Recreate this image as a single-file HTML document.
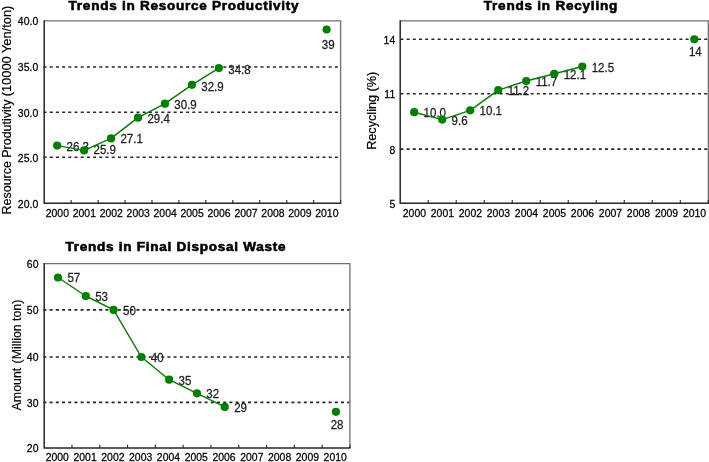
<!DOCTYPE html><html><head><meta charset="utf-8"><title>Trends</title><style>html,body{margin:0;padding:0;background:#fff}svg{display:block;filter:blur(0.4px)}text{font-family:"Liberation Sans",Arial,sans-serif}</style></head><body>
<svg width="709" height="462" viewBox="0 0 709 462">
<rect width="709" height="462" fill="#fff"/>
<path d="M44.2 20.8H340.6V203.3" fill="none" stroke="#707070" stroke-width="1.3"/>
<line x1="43.5" x2="340.1" y1="157.30" y2="157.30" stroke="#262626" stroke-width="1.6" stroke-dasharray="3 3.2"/>
<line x1="43.5" x2="340.1" y1="112.25" y2="112.25" stroke="#262626" stroke-width="1.6" stroke-dasharray="3 3.2"/>
<line x1="43.5" x2="340.1" y1="67.00" y2="67.00" stroke="#262626" stroke-width="1.6" stroke-dasharray="3 3.2"/>
<path d="M44.2 20.3V203.3H341.20000000000005" fill="none" stroke="#262626" stroke-width="1.5"/>
<line x1="71.15" x2="71.15" y1="200.10000000000002" y2="203.3" stroke="#262626" stroke-width="1.1"/>
<line x1="98.09" x2="98.09" y1="200.10000000000002" y2="203.3" stroke="#262626" stroke-width="1.1"/>
<line x1="125.04" x2="125.04" y1="200.10000000000002" y2="203.3" stroke="#262626" stroke-width="1.1"/>
<line x1="151.98" x2="151.98" y1="200.10000000000002" y2="203.3" stroke="#262626" stroke-width="1.1"/>
<line x1="178.93" x2="178.93" y1="200.10000000000002" y2="203.3" stroke="#262626" stroke-width="1.1"/>
<line x1="205.87" x2="205.87" y1="200.10000000000002" y2="203.3" stroke="#262626" stroke-width="1.1"/>
<line x1="232.82" x2="232.82" y1="200.10000000000002" y2="203.3" stroke="#262626" stroke-width="1.1"/>
<line x1="259.76" x2="259.76" y1="200.10000000000002" y2="203.3" stroke="#262626" stroke-width="1.1"/>
<line x1="286.71" x2="286.71" y1="200.10000000000002" y2="203.3" stroke="#262626" stroke-width="1.1"/>
<line x1="313.65" x2="313.65" y1="200.10000000000002" y2="203.3" stroke="#262626" stroke-width="1.1"/>
<line x1="340.60" x2="340.60" y1="200.10000000000002" y2="203.3" stroke="#262626" stroke-width="1.1"/>
<text transform="translate(38.20 207.70) scale(0.95 1)" font-size="11" text-anchor="end" fill="#000" stroke="#000" stroke-width="0.25">20.0</text>
<text transform="translate(38.20 161.70) scale(0.95 1)" font-size="11" text-anchor="end" fill="#000" stroke="#000" stroke-width="0.25">25.0</text>
<text transform="translate(38.20 116.65) scale(0.95 1)" font-size="11" text-anchor="end" fill="#000" stroke="#000" stroke-width="0.25">30.0</text>
<text transform="translate(38.20 71.40) scale(0.95 1)" font-size="11" text-anchor="end" fill="#000" stroke="#000" stroke-width="0.25">35.0</text>
<text transform="translate(38.20 25.20) scale(0.95 1)" font-size="11" text-anchor="end" fill="#000" stroke="#000" stroke-width="0.25">40.0</text>
<text transform="translate(57.37 217.30) scale(0.95 1)" font-size="11" text-anchor="middle" fill="#000" stroke="#000" stroke-width="0.25">2000</text>
<text transform="translate(84.32 217.30) scale(0.95 1)" font-size="11" text-anchor="middle" fill="#000" stroke="#000" stroke-width="0.25">2001</text>
<text transform="translate(111.26 217.30) scale(0.95 1)" font-size="11" text-anchor="middle" fill="#000" stroke="#000" stroke-width="0.25">2002</text>
<text transform="translate(138.21 217.30) scale(0.95 1)" font-size="11" text-anchor="middle" fill="#000" stroke="#000" stroke-width="0.25">2003</text>
<text transform="translate(165.15 217.30) scale(0.95 1)" font-size="11" text-anchor="middle" fill="#000" stroke="#000" stroke-width="0.25">2004</text>
<text transform="translate(192.10 217.30) scale(0.95 1)" font-size="11" text-anchor="middle" fill="#000" stroke="#000" stroke-width="0.25">2005</text>
<text transform="translate(219.05 217.30) scale(0.95 1)" font-size="11" text-anchor="middle" fill="#000" stroke="#000" stroke-width="0.25">2006</text>
<text transform="translate(245.99 217.30) scale(0.95 1)" font-size="11" text-anchor="middle" fill="#000" stroke="#000" stroke-width="0.25">2007</text>
<text transform="translate(272.94 217.30) scale(0.95 1)" font-size="11" text-anchor="middle" fill="#000" stroke="#000" stroke-width="0.25">2008</text>
<text transform="translate(299.88 217.30) scale(0.95 1)" font-size="11" text-anchor="middle" fill="#000" stroke="#000" stroke-width="0.25">2009</text>
<text transform="translate(326.83 217.30) scale(0.95 1)" font-size="11" text-anchor="middle" fill="#000" stroke="#000" stroke-width="0.25">2010</text>
<text transform="translate(66.57 150.59) scale(0.96 1)" font-size="12" text-anchor="start" fill="#1c1c1c" stroke="#1c1c1c" stroke-width="0.25">26.3</text>
<text transform="translate(93.52 154.19) scale(0.96 1)" font-size="12" text-anchor="start" fill="#1c1c1c" stroke="#1c1c1c" stroke-width="0.25">25.9</text>
<text transform="translate(120.46 143.38) scale(0.96 1)" font-size="12" text-anchor="start" fill="#1c1c1c" stroke="#1c1c1c" stroke-width="0.25">27.1</text>
<text transform="translate(147.41 122.66) scale(0.96 1)" font-size="12" text-anchor="start" fill="#1c1c1c" stroke="#1c1c1c" stroke-width="0.25">29.4</text>
<text transform="translate(174.35 109.11) scale(0.96 1)" font-size="12" text-anchor="start" fill="#1c1c1c" stroke="#1c1c1c" stroke-width="0.25">30.9</text>
<text transform="translate(201.30 91.01) scale(0.96 1)" font-size="12" text-anchor="start" fill="#1c1c1c" stroke="#1c1c1c" stroke-width="0.25">32.9</text>
<text transform="translate(228.25 73.81) scale(0.96 1)" font-size="12" text-anchor="start" fill="#1c1c1c" stroke="#1c1c1c" stroke-width="0.25">34.8</text>
<text transform="translate(328.13 48.99) scale(0.96 1)" font-size="12" text-anchor="middle" fill="#1c1c1c" stroke="#1c1c1c" stroke-width="0.25">39</text>
<polyline points="57.17,145.59 84.12,150.39 111.06,138.38 138.01,117.66 164.95,103.71 191.90,84.81 218.85,68.11" fill="none" stroke="#008000" stroke-width="1.45" stroke-linejoin="round"/>
<circle cx="57.17" cy="145.59" r="4.1" fill="#008000"/>
<circle cx="84.12" cy="150.39" r="4.1" fill="#008000"/>
<circle cx="111.06" cy="138.38" r="4.1" fill="#008000"/>
<circle cx="138.01" cy="117.66" r="4.1" fill="#008000"/>
<circle cx="164.95" cy="103.71" r="4.1" fill="#008000"/>
<circle cx="191.90" cy="84.81" r="4.1" fill="#008000"/>
<circle cx="218.85" cy="68.11" r="4.1" fill="#008000"/>
<circle cx="326.63" cy="29.49" r="4.1" fill="#008000"/>
<text transform="translate(68.6 9.5) scale(1.13 1)" font-size="12" font-weight="bold" fill="#000" stroke="#000" stroke-width="0.55" textLength="203.4" lengthAdjust="spacing">Trends in Resource Productivity</text>
<text transform="translate(11 214.4) rotate(-90)" font-size="12.5" fill="#000" stroke="#000" stroke-width="0.2" textLength="114.8" lengthAdjust="spacingAndGlyphs">Resource Produtivity</text>
<text transform="translate(11 96.3) rotate(-90)" font-size="12.5" fill="#000" stroke="#000" stroke-width="0.2" textLength="90.6" lengthAdjust="spacingAndGlyphs">(10000 Yen/ton)</text>
<path d="M400.2 20.8H708.3V203.3" fill="none" stroke="#707070" stroke-width="1.3"/>
<line x1="400.4" x2="707.8" y1="149.10" y2="149.10" stroke="#262626" stroke-width="1.6" stroke-dasharray="3 3.2"/>
<line x1="400.4" x2="707.8" y1="93.75" y2="93.75" stroke="#262626" stroke-width="1.6" stroke-dasharray="3 3.2"/>
<line x1="400.4" x2="707.8" y1="39.25" y2="39.25" stroke="#262626" stroke-width="1.6" stroke-dasharray="3 3.2"/>
<path d="M400.2 20.3V203.3H708.9" fill="none" stroke="#262626" stroke-width="1.5"/>
<line x1="428.21" x2="428.21" y1="200.10000000000002" y2="203.3" stroke="#262626" stroke-width="1.1"/>
<line x1="456.22" x2="456.22" y1="200.10000000000002" y2="203.3" stroke="#262626" stroke-width="1.1"/>
<line x1="484.23" x2="484.23" y1="200.10000000000002" y2="203.3" stroke="#262626" stroke-width="1.1"/>
<line x1="512.24" x2="512.24" y1="200.10000000000002" y2="203.3" stroke="#262626" stroke-width="1.1"/>
<line x1="540.25" x2="540.25" y1="200.10000000000002" y2="203.3" stroke="#262626" stroke-width="1.1"/>
<line x1="568.25" x2="568.25" y1="200.10000000000002" y2="203.3" stroke="#262626" stroke-width="1.1"/>
<line x1="596.26" x2="596.26" y1="200.10000000000002" y2="203.3" stroke="#262626" stroke-width="1.1"/>
<line x1="624.27" x2="624.27" y1="200.10000000000002" y2="203.3" stroke="#262626" stroke-width="1.1"/>
<line x1="652.28" x2="652.28" y1="200.10000000000002" y2="203.3" stroke="#262626" stroke-width="1.1"/>
<line x1="680.29" x2="680.29" y1="200.10000000000002" y2="203.3" stroke="#262626" stroke-width="1.1"/>
<line x1="708.30" x2="708.30" y1="200.10000000000002" y2="203.3" stroke="#262626" stroke-width="1.1"/>
<text transform="translate(395.20 207.70) scale(0.95 1)" font-size="11" text-anchor="end" fill="#000" stroke="#000" stroke-width="0.25">5</text>
<text transform="translate(395.20 153.50) scale(0.95 1)" font-size="11" text-anchor="end" fill="#000" stroke="#000" stroke-width="0.25">8</text>
<text transform="translate(395.20 98.15) scale(0.95 1)" font-size="11" text-anchor="end" fill="#000" stroke="#000" stroke-width="0.25">11</text>
<text transform="translate(395.20 43.65) scale(0.95 1)" font-size="11" text-anchor="end" fill="#000" stroke="#000" stroke-width="0.25">14</text>
<text transform="translate(414.40 217.30) scale(0.95 1)" font-size="11" text-anchor="middle" fill="#000" stroke="#000" stroke-width="0.25">2000</text>
<text transform="translate(442.41 217.30) scale(0.95 1)" font-size="11" text-anchor="middle" fill="#000" stroke="#000" stroke-width="0.25">2001</text>
<text transform="translate(470.42 217.30) scale(0.95 1)" font-size="11" text-anchor="middle" fill="#000" stroke="#000" stroke-width="0.25">2002</text>
<text transform="translate(498.43 217.30) scale(0.95 1)" font-size="11" text-anchor="middle" fill="#000" stroke="#000" stroke-width="0.25">2003</text>
<text transform="translate(526.44 217.30) scale(0.95 1)" font-size="11" text-anchor="middle" fill="#000" stroke="#000" stroke-width="0.25">2004</text>
<text transform="translate(554.45 217.30) scale(0.95 1)" font-size="11" text-anchor="middle" fill="#000" stroke="#000" stroke-width="0.25">2005</text>
<text transform="translate(582.46 217.30) scale(0.95 1)" font-size="11" text-anchor="middle" fill="#000" stroke="#000" stroke-width="0.25">2006</text>
<text transform="translate(610.47 217.30) scale(0.95 1)" font-size="11" text-anchor="middle" fill="#000" stroke="#000" stroke-width="0.25">2007</text>
<text transform="translate(638.48 217.30) scale(0.95 1)" font-size="11" text-anchor="middle" fill="#000" stroke="#000" stroke-width="0.25">2008</text>
<text transform="translate(666.49 217.30) scale(0.95 1)" font-size="11" text-anchor="middle" fill="#000" stroke="#000" stroke-width="0.25">2009</text>
<text transform="translate(694.50 217.30) scale(0.95 1)" font-size="11" text-anchor="middle" fill="#000" stroke="#000" stroke-width="0.25">2010</text>
<text transform="translate(423.60 117.20) scale(0.96 1)" font-size="12" text-anchor="start" fill="#1c1c1c" stroke="#1c1c1c" stroke-width="0.25">10.0</text>
<text transform="translate(451.61 124.58) scale(0.96 1)" font-size="12" text-anchor="start" fill="#1c1c1c" stroke="#1c1c1c" stroke-width="0.25">9.6</text>
<text transform="translate(479.62 115.36) scale(0.96 1)" font-size="12" text-anchor="start" fill="#1c1c1c" stroke="#1c1c1c" stroke-width="0.25">10.1</text>
<text transform="translate(507.63 95.12) scale(0.96 1)" font-size="12" text-anchor="start" fill="#1c1c1c" stroke="#1c1c1c" stroke-width="0.25">11.2</text>
<text transform="translate(535.64 86.03) scale(0.96 1)" font-size="12" text-anchor="start" fill="#1c1c1c" stroke="#1c1c1c" stroke-width="0.25">11.7</text>
<text transform="translate(563.65 78.77) scale(0.96 1)" font-size="12" text-anchor="start" fill="#1c1c1c" stroke="#1c1c1c" stroke-width="0.25">12.1</text>
<text transform="translate(591.66 71.50) scale(0.96 1)" font-size="12" text-anchor="start" fill="#1c1c1c" stroke="#1c1c1c" stroke-width="0.25">12.5</text>
<text transform="translate(695.30 56.05) scale(0.96 1)" font-size="12" text-anchor="middle" fill="#1c1c1c" stroke="#1c1c1c" stroke-width="0.25">14</text>
<polyline points="414.20,112.20 442.21,119.58 470.22,110.36 498.23,90.12 526.24,81.03 554.25,73.77 582.26,66.50" fill="none" stroke="#008000" stroke-width="1.45" stroke-linejoin="round"/>
<circle cx="414.20" cy="112.20" r="4.1" fill="#008000"/>
<circle cx="442.21" cy="119.58" r="4.1" fill="#008000"/>
<circle cx="470.22" cy="110.36" r="4.1" fill="#008000"/>
<circle cx="498.23" cy="90.12" r="4.1" fill="#008000"/>
<circle cx="526.24" cy="81.03" r="4.1" fill="#008000"/>
<circle cx="554.25" cy="73.77" r="4.1" fill="#008000"/>
<circle cx="582.26" cy="66.50" r="4.1" fill="#008000"/>
<circle cx="694.30" cy="39.25" r="4.1" fill="#008000"/>
<text transform="translate(483.8 9.5) scale(1.13 1)" font-size="12" font-weight="bold" fill="#000" stroke="#000" stroke-width="0.55" textLength="118.1" lengthAdjust="spacing">Trends in Recyling</text>
<text transform="translate(375.6 149.8) rotate(-90)" font-size="12.5" fill="#000" stroke="#000" stroke-width="0.2" textLength="78" lengthAdjust="spacingAndGlyphs">Recycling (%)</text>
<path d="M44.2 263.6H349.9V447.9" fill="none" stroke="#707070" stroke-width="1.3"/>
<line x1="43.400000000000006" x2="349.4" y1="402.40" y2="402.40" stroke="#262626" stroke-width="1.6" stroke-dasharray="3 3.2"/>
<line x1="43.400000000000006" x2="349.4" y1="357.00" y2="357.00" stroke="#262626" stroke-width="1.6" stroke-dasharray="3 3.2"/>
<line x1="43.400000000000006" x2="349.4" y1="309.90" y2="309.90" stroke="#262626" stroke-width="1.6" stroke-dasharray="3 3.2"/>
<path d="M44.2 263.1V447.9H350.5" fill="none" stroke="#262626" stroke-width="1.5"/>
<line x1="71.99" x2="71.99" y1="444.7" y2="447.9" stroke="#262626" stroke-width="1.1"/>
<line x1="99.78" x2="99.78" y1="444.7" y2="447.9" stroke="#262626" stroke-width="1.1"/>
<line x1="127.57" x2="127.57" y1="444.7" y2="447.9" stroke="#262626" stroke-width="1.1"/>
<line x1="155.36" x2="155.36" y1="444.7" y2="447.9" stroke="#262626" stroke-width="1.1"/>
<line x1="183.15" x2="183.15" y1="444.7" y2="447.9" stroke="#262626" stroke-width="1.1"/>
<line x1="210.95" x2="210.95" y1="444.7" y2="447.9" stroke="#262626" stroke-width="1.1"/>
<line x1="238.74" x2="238.74" y1="444.7" y2="447.9" stroke="#262626" stroke-width="1.1"/>
<line x1="266.53" x2="266.53" y1="444.7" y2="447.9" stroke="#262626" stroke-width="1.1"/>
<line x1="294.32" x2="294.32" y1="444.7" y2="447.9" stroke="#262626" stroke-width="1.1"/>
<line x1="322.11" x2="322.11" y1="444.7" y2="447.9" stroke="#262626" stroke-width="1.1"/>
<line x1="349.90" x2="349.90" y1="444.7" y2="447.9" stroke="#262626" stroke-width="1.1"/>
<text transform="translate(38.50 452.30) scale(0.95 1)" font-size="11" text-anchor="end" fill="#000" stroke="#000" stroke-width="0.25">20</text>
<text transform="translate(38.50 406.80) scale(0.95 1)" font-size="11" text-anchor="end" fill="#000" stroke="#000" stroke-width="0.25">30</text>
<text transform="translate(38.50 361.40) scale(0.95 1)" font-size="11" text-anchor="end" fill="#000" stroke="#000" stroke-width="0.25">40</text>
<text transform="translate(38.50 314.30) scale(0.95 1)" font-size="11" text-anchor="end" fill="#000" stroke="#000" stroke-width="0.25">50</text>
<text transform="translate(38.50 268.00) scale(0.95 1)" font-size="11" text-anchor="end" fill="#000" stroke="#000" stroke-width="0.25">60</text>
<text transform="translate(57.30 461.40) scale(0.95 1)" font-size="11" text-anchor="middle" fill="#000" stroke="#000" stroke-width="0.25">2000</text>
<text transform="translate(85.09 461.40) scale(0.95 1)" font-size="11" text-anchor="middle" fill="#000" stroke="#000" stroke-width="0.25">2001</text>
<text transform="translate(112.88 461.40) scale(0.95 1)" font-size="11" text-anchor="middle" fill="#000" stroke="#000" stroke-width="0.25">2002</text>
<text transform="translate(140.67 461.40) scale(0.95 1)" font-size="11" text-anchor="middle" fill="#000" stroke="#000" stroke-width="0.25">2003</text>
<text transform="translate(168.46 461.40) scale(0.95 1)" font-size="11" text-anchor="middle" fill="#000" stroke="#000" stroke-width="0.25">2004</text>
<text transform="translate(196.25 461.40) scale(0.95 1)" font-size="11" text-anchor="middle" fill="#000" stroke="#000" stroke-width="0.25">2005</text>
<text transform="translate(224.04 461.40) scale(0.95 1)" font-size="11" text-anchor="middle" fill="#000" stroke="#000" stroke-width="0.25">2006</text>
<text transform="translate(251.83 461.40) scale(0.95 1)" font-size="11" text-anchor="middle" fill="#000" stroke="#000" stroke-width="0.25">2007</text>
<text transform="translate(279.62 461.40) scale(0.95 1)" font-size="11" text-anchor="middle" fill="#000" stroke="#000" stroke-width="0.25">2008</text>
<text transform="translate(307.41 461.40) scale(0.95 1)" font-size="11" text-anchor="middle" fill="#000" stroke="#000" stroke-width="0.25">2009</text>
<text transform="translate(335.20 461.40) scale(0.95 1)" font-size="11" text-anchor="middle" fill="#000" stroke="#000" stroke-width="0.25">2010</text>
<text transform="translate(67.40 282.49) scale(0.96 1)" font-size="12" text-anchor="start" fill="#1c1c1c" stroke="#1c1c1c" stroke-width="0.25">57</text>
<text transform="translate(95.19 301.01) scale(0.96 1)" font-size="12" text-anchor="start" fill="#1c1c1c" stroke="#1c1c1c" stroke-width="0.25">53</text>
<text transform="translate(122.98 314.90) scale(0.96 1)" font-size="12" text-anchor="start" fill="#1c1c1c" stroke="#1c1c1c" stroke-width="0.25">50</text>
<text transform="translate(150.77 362.00) scale(0.96 1)" font-size="12" text-anchor="start" fill="#1c1c1c" stroke="#1c1c1c" stroke-width="0.25">40</text>
<text transform="translate(178.56 384.70) scale(0.96 1)" font-size="12" text-anchor="start" fill="#1c1c1c" stroke="#1c1c1c" stroke-width="0.25">35</text>
<text transform="translate(206.35 398.32) scale(0.96 1)" font-size="12" text-anchor="start" fill="#1c1c1c" stroke="#1c1c1c" stroke-width="0.25">32</text>
<text transform="translate(234.14 411.95) scale(0.96 1)" font-size="12" text-anchor="start" fill="#1c1c1c" stroke="#1c1c1c" stroke-width="0.25">29</text>
<text transform="translate(337.10 429.46) scale(0.96 1)" font-size="12" text-anchor="middle" fill="#1c1c1c" stroke="#1c1c1c" stroke-width="0.25">28</text>
<polyline points="58.00,277.49 85.79,296.01 113.58,309.90 141.37,357.00 169.16,379.70 196.95,393.32 224.74,406.95" fill="none" stroke="#008000" stroke-width="1.45" stroke-linejoin="round"/>
<circle cx="58.00" cy="277.49" r="4.1" fill="#008000"/>
<circle cx="85.79" cy="296.01" r="4.1" fill="#008000"/>
<circle cx="113.58" cy="309.90" r="4.1" fill="#008000"/>
<circle cx="141.37" cy="357.00" r="4.1" fill="#008000"/>
<circle cx="169.16" cy="379.70" r="4.1" fill="#008000"/>
<circle cx="196.95" cy="393.32" r="4.1" fill="#008000"/>
<circle cx="224.74" cy="406.95" r="4.1" fill="#008000"/>
<circle cx="335.90" cy="411.86" r="4.1" fill="#008000"/>
<text transform="translate(65.6 251.4) scale(1.13 1)" font-size="12" font-weight="bold" fill="#000" stroke="#000" stroke-width="0.55" textLength="194.6" lengthAdjust="spacing">Trends in Final Disposal Waste</text>
<text transform="translate(20.6 410.4) rotate(-90)" font-size="12.5" fill="#000" stroke="#000" stroke-width="0.2" textLength="42.6" lengthAdjust="spacingAndGlyphs">Amount</text>
<text transform="translate(20.6 363.4) rotate(-90)" font-size="12.5" fill="#000" stroke="#000" stroke-width="0.2" textLength="63.7" lengthAdjust="spacingAndGlyphs">(Million ton)</text>
</svg></body></html>
